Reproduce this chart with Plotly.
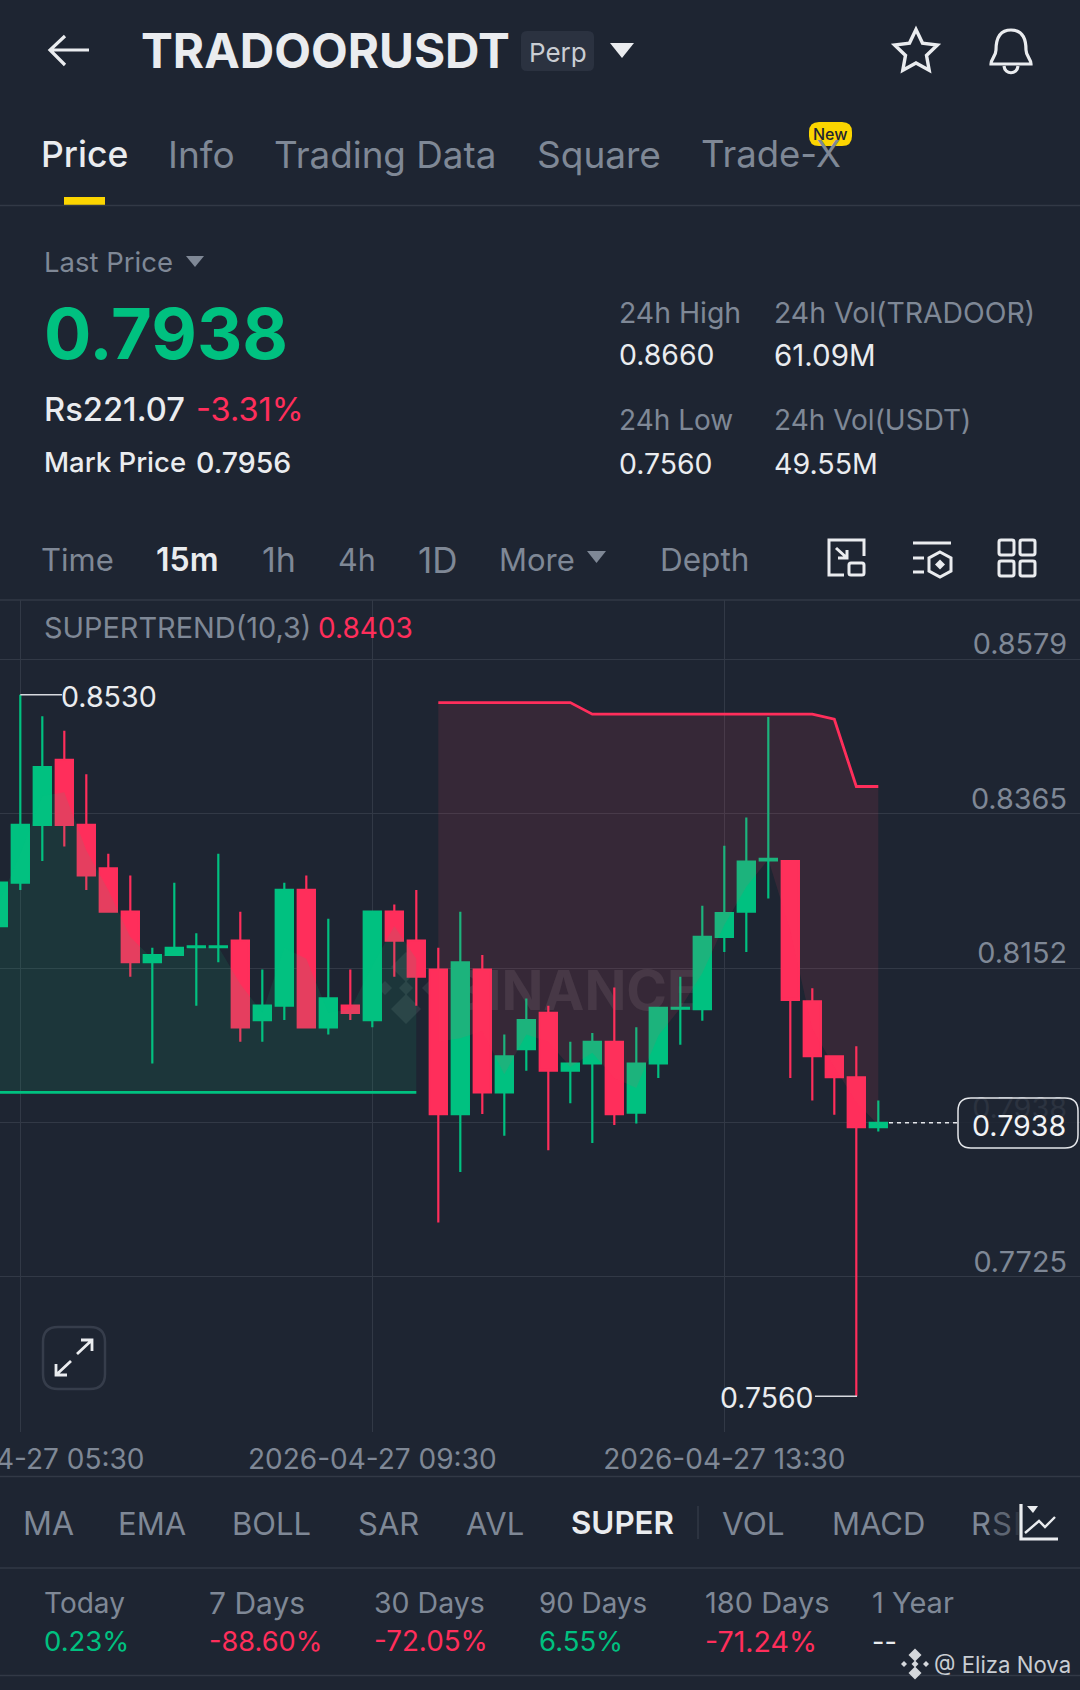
import math, re
import pandas as pd
import plotly.graph_objects as go

W, H = 1080, 1690
BG = "#1E2532"
GRID = "#323946"
GREEN = "#00C180"
RED = "#FF2E5B"
GRAY = "#7F8896"
WHITE = "#EAECEF"
FONT = "Inter"

# ---- data ----
candle_times = pd.date_range("2026-04-27 05:15", periods=41, freq="15min")
candle_open = [.8210, .8270, .8350, .8440, .8350, .8290, .8230, .8160, .8170, .8181, .8181,
               .8190, .8080, .8100, .8260, .8070, .8100, .8080, .8230, .8190,
               .8150, .7950, .8150, .7980, .8040, .8090, .8010, .8020, .8050, .7952,
               .8020, .8096, .8095, .8195, .8230, .8301, .8300, .8106, .8030, .8001, .7932]
candle_high = [.8270, .8530, .8500, .8480, .8420, .8310, .8280, .8180, .8270, .8200, .8310,
               .8230, .8150, .8270, .8280, .8220, .8150, .8230, .8240, .8260,
               .8180, .8230, .8170, .8060, .8110, .8100, .8050, .8062, .8125, .8070,
               .8098, .8140, .8238, .8321, .8360, .8499, .8300, .8124, .8030, .8044, .7969]
candle_low = [.8210, .8260, .8300, .8320, .8260, .8230, .8140, .8020, .8170, .8100, .8160,
              .8050, .8050, .8080, .8070, .8060, .8080, .8070, .8140, .8100,
              .7800, .7870, .7950, .7920, .8010, .7900, .7965, .7910, .7935, .7937,
              .8000, .8046, .8079, .8174, .8174, .8248, .8000, .7969, .7949, .7560, .7926]
candle_close = [.8270, .8350, .8430, .8350, .8280, .8230, .8160, .8170, .8180, .8182, .8182,
                .8070, .8100, .8260, .8070, .8110, .8090, .8230, .8190, .8140,
                .7950, .8160, .7980, .8030, .8080, .8010, .8020, .8050, .7950, .8020,
                .8097, .8097, .8195, .8228, .8299, .8303, .8108, .8030, .8001, .7932, .7938]

trend_up_count = 20       # candles covered by the green band
trend_up_value = [.7980] * trend_up_count
trend_down_value = [.8519, .8519, .8519, .8519, .8519, .8519, .8519, .8503, .8503, .8503, .8503,
                    .8503, .8503, .8503, .8503, .8503, .8503, .8503, .8496, .8403, .8403]

price_ticks = [.8579, .8365, .8152, .7938, .7725, .7511]
price_tick_labels = ["0.8579", "0.8365", "0.8152", "0.7938", "0.7725", "0.7511"]
time_ticks = ["2026-04-27 05:30", "2026-04-27 09:30", "2026-04-27 13:30"]
last_price = .7938
high_mark, low_mark = .8530, .7560

# ---- chart geometry ----
PLOT_TOP, PLOT_BOT = 600, 1431.5
PX_PER_PRICE = 7232.0
def py(p):
    return 1122.8 - (p - last_price) * PX_PER_PRICE
y_top = last_price + (1122.8 - PLOT_TOP) / PX_PER_PRICE
y_bot = last_price + (1122.8 - PLOT_BOT) / PX_PER_PRICE
T0 = pd.Timestamp("2026-04-27 05:30")
def tx(px):
    return (T0 + pd.Timedelta(minutes=(px - 20.3) / 22.0 * 15)).strftime("%Y-%m-%d %H:%M:%S")

# ---- helpers ----
annots, shapes = [], []
def T(x, y, s, size, color, anchor="left", weight=400, family=None):
    if anchor == "left":
        x -= 1.2
    annots.append(dict(x=x / W, y=1 - y / H, xref="paper", yref="paper", text=s, showarrow=False,
                       xanchor=anchor, yanchor="middle", borderpad=0, borderwidth=0,
                       font=dict(size=size, color=color, family=family or FONT, weight=weight)))
def path(d):
    toks = re.findall(r"[MLCQZ]|-?\d+\.?\d*", d)
    out, i = [], 0
    for t in toks:
        if t in "MLCQZ":
            out.append(t)
        else:
            v = float(t)
            out.append(f"{v / W:.6f}" if i % 2 == 0 else f"{1 - v / H:.6f}")
            i += 1
    return " ".join(out)
def P(d, stroke=WHITE, width=3, fill=None, layer="above"):
    shapes.append(dict(type="path", xref="paper", yref="paper", path=path(d), layer=layer,
                       line=dict(color=stroke or "rgba(0,0,0,0)", width=width if stroke else 0),
                       fillcolor=fill or "rgba(0,0,0,0)"))
def RR(x0, y0, x1, y1, r):
    return (f"M {x0+r} {y0} L {x1-r} {y0} Q {x1} {y0} {x1} {y0+r} L {x1} {y1-r} Q {x1} {y1} {x1-r} {y1} "
            f"L {x0+r} {y1} Q {x0} {y1} {x0} {y1-r} L {x0} {y0+r} Q {x0} {y0} {x0+r} {y0} Z")
def HL(y, x0=0, x1=W, c=GRID, w=1.5):
    P(f"M {x0} {y} L {x1} {y}", stroke=c, width=w)
def DIA(cx, cy, r):
    return f"M {cx} {cy-r} L {cx+r} {cy} L {cx} {cy+r} L {cx-r} {cy} Z"
def TRI(x0, x1, y0, y1, c):
    P(f"M {x0} {y0} L {x1} {y0} L {(x0+x1)/2} {y1} Z", stroke=None, fill=c)

# ---- header ----
P("M 89 50 L 50 50 M 65 36 L 50 50 L 65 65", width=3.2)
T(142, 51, "TRADOORUSDT", 47.7, WHITE, weight=700)
P(RR(521, 31, 594, 71, 6), stroke=None, fill="#2B3240")
T(557.5, 52, "Perp", 26, "#C9CDD3", anchor="center")
TRI(610, 634, 43, 58, WHITE)
pts = []
for k in range(10):
    r = 22.5 if k % 2 == 0 else 11
    a = math.radians(-90 + 36 * k)
    pts.append((916 + r * math.cos(a), 52 + r * math.sin(a)))
P("M " + " L ".join(f"{a:.1f} {b:.1f}" for a, b in pts) + " Z", width=3.4)
P("M 1011 30 C 998 30 996 41 996 50 C 996 56 991 59 991 64 L 1031 64 C 1031 59 1026 56 1026 50 C 1026 41 1024 30 1011 30 Z", width=3.2)
P("M 1004 66 C 1005 75 1017 75 1018 66", width=3.2)

# ---- tabs ----
for x, s, c, wt, sz, yy in [(42, "Price", WHITE, 500, 35.5, 154.5), (169, "Info", GRAY, 400, 37, 154), (275, "Trading Data", GRAY, 400, 36.8, 154),
                            (538, "Square", GRAY, 400, 37, 154), (702, "Trade-X", GRAY, 400, 36.5, 154)]:
    T(x, yy, s, sz, c, weight=wt)
P(f"M 64 197 L 105 197 L 105 205 L 64 205 Z", stroke=None, fill="#FCD500")
HL(205.5)
P(RR(809, 122, 852, 146, 10), stroke=None, fill="#FCD500")
T(830.5, 134, "New", 16, "#1E2532", anchor="center", weight=500)

# ---- price panel ----
T(45, 262.5, "Last Price", 27.5, GRAY)
TRI(186, 204, 256, 267, GRAY)
T(45, 333, "0.7938", 70.3, GREEN, weight=700)
T(45, 409, "Rs221.07", 32.7, WHITE, weight=500)
T(197, 409, "-3.31%", 32.5, RED, weight=400)
T(45, 462, "Mark Price", 27.5, WHITE, weight=500)
T(197, 462, "0.7956", 28.5, WHITE, weight=500)
for x, y, s, c, sz in [(620, 312, "24h High", GRAY, 28.4), (775, 312, "24h Vol(TRADOOR)", GRAY, 28.4),
                       (620, 355, "0.8660", WHITE, 28.4), (775, 355, "61.09M", WHITE, 29.5),
                       (620, 420, "24h Low", GRAY, 28), (775, 420, "24h Vol(USDT)", GRAY, 28),
                       (620, 463, "0.7560", WHITE, 28.4), (775, 463, "49.55M", WHITE, 28.6)]:
    T(x, y, s, sz, c)

# ---- interval row ----
for x, s, c, wt, sz in [(42, "Time", GRAY, 400, 31), (157, "15m", WHITE, 600, 32), (263, "1h", GRAY, 400, 34), (339, "4h", GRAY, 400, 30.5),
                        (419, "1D", GRAY, 400, 35), (500, "More", GRAY, 400, 31), (661, "Depth", GRAY, 400, 31.5)]:
    T(x, 559.5, s, sz, c, weight=wt)
TRI(587, 606, 551, 563, GRAY)
P("M 864 556 L 864 540 L 829 540 L 829 575 L 844 575", width=3)
P(RR(849, 563, 864, 575, 2), width=3)
P("M 836 548 L 847 558 M 847 550 L 847 558 L 838 558", width=3)
P("M 913 543 L 951 543 M 913 558 L 924 558 M 913 572 L 924 572", width=3)
P("M 940 552 L 951 558 L 951 571 L 940 577 L 929 571 L 929 558 Z", width=3)
P(DIA(940, 564.5, 5), stroke=None, fill=WHITE)
for a, b in [(999, 540), (1020, 540), (999, 561), (1020, 561)]:
    P(RR(a, b, a + 15, b + 15, 2), width=3)
HL(600)

# ---- chart labels ----
T(45, 628, "SUPERTREND(10,3)", 28.9, GRAY)
T(319, 628, "0.8403", 28, RED)
T(62, py(high_mark) + 1.5, "0.8530", 28.6, WHITE)
T(721, py(low_mark) + 1.5, "0.7560", 28.4, WHITE)
for xa, xb, v in [(20.3, 62, high_mark), (815, 857, low_mark)]:
    shapes.append(dict(type="line", xref="x", yref="y", x0=tx(xa), x1=tx(xb), y0=v, y1=v,
                       line=dict(color="#D7DADF", width=1.5)))
shapes.append(dict(type="line", xref="x", yref="y", x0=tx(889), x1=tx(958), y0=last_price, y1=last_price,
                   line=dict(color="#E4E6EA", width=1.5, dash="4px,4px")))
P(RR(958, 1098, 1078, 1148, 13), stroke="#E4E6EA", width=1.5, fill="rgba(30,37,50,0.86)")
T(1066, 1125.5, "0.7938", 28.6, "#F2F3F5", anchor="right")
P(RR(43, 1327, 105, 1389, 15), stroke="#363D4B", width=2.5)
P("M 56 1375 L 71 1361 M 56 1364 L 56 1375 L 67 1375 M 77 1354 L 92 1340 M 81 1340 L 92 1340 L 92 1351", width=2.8)

# watermark, kept under the candles
shapes.append(dict(type="rect", xref="paper", yref="paper", layer="below",
                   x0=440 / W, x1=710 / W, y0=1 - 1010 / H, y1=1 - 965 / H,
                   line=dict(width=0), fillcolor="rgba(0,0,0,0)",
                   label=dict(text="BINANCE", textposition="middle center",
                              font=dict(size=55, color="rgba(255,255,255,0.085)", family=FONT, weight=700))))
for cx, cy, r in [(406, 967, 15), (406, 1009, 15), (385, 988, 7), (429, 988, 7), (406, 988, 7)]:
    P(DIA(cx, cy, r), stroke=None, fill="rgba(255,255,255,0.08)", layer="below")

# ---- indicator row ----
HL(1476.5)
for x, s, c, wt, sz in [(24, "MA", GRAY, 400, 32), (119, "EMA", GRAY, 400, 31), (233, "BOLL", GRAY, 400, 31), (359, "SAR", GRAY, 400, 31),
                        (467, "AVL", GRAY, 400, 31), (572, "SUPER", WHITE, 600, 31.3), (723, "VOL", GRAY, 400, 31.5), (833, "MACD", GRAY, 400, 31)]:
    T(x, 1523, s, sz, c, weight=wt)
T(972, 1523, "R", 31, GRAY)
T(993, 1523, "S", 31, "#5E6673")
T(1014, 1523, "I", 31, "#303744")
P("M 698 1506 L 698 1539", stroke=GRID, width=1.5)
P("M 1021 1504 L 1021 1539 L 1058 1539", width=3.2)
P("M 1025 1533 L 1039 1521 L 1045 1527 L 1055 1517", width=2.4)
P("M 1027 1506 L 1038 1506 L 1033 1513 Z", stroke=None, fill=WHITE)
HL(1568)

# ---- returns ----
for x, a, b, c, sa, sb in [(45, "Today", "0.23%", GREEN, 28, 27.5), (210, "7 Days", "-88.60%", RED, 30, 27.2),
                           (375, "30 Days", "-72.05%", RED, 28.5, 27.8), (540, "90 Days", "6.55%", GREEN, 27.8, 27.5),
                           (706, "180 Days", "-71.24%", RED, 29, 28.6), (873, "1 Year", "--", WHITE, 29, 27)]:
    T(x, 1602.5, a, sa, GRAY)
    T(x, 1641, b, sb, c)
HL(1675.5)
for cx, cy, r in [(915, 1655, 6.5), (915, 1673, 6.5), (904, 1664, 3), (926, 1664, 3), (915, 1664, 3.5)]:
    P(DIA(cx, cy, r), stroke=None, fill="#D5D8DC")
T(935, 1664, "@ Eliza Nova", 22.2, "#C9CDD2")

# ---- traces ----
fig = go.Figure()
fig.add_trace(go.Candlestick(
    x=candle_times, open=candle_open, high=candle_high, low=candle_low, close=candle_close,
    whiskerwidth=0, showlegend=False,
    increasing=dict(line=dict(color=GREEN, width=2.2), fillcolor=GREEN),
    decreasing=dict(line=dict(color=RED, width=2.2), fillcolor=RED)))
mid = [(o + c) / 2 for o, c in zip(candle_open, candle_close)]
n_up = trend_up_count
fig.add_trace(go.Scatter(x=candle_times[:n_up], y=trend_up_value, mode="lines",
                         line=dict(color=GREEN, width=2.8), showlegend=False))
fig.add_trace(go.Scatter(x=candle_times[:n_up], y=mid[:n_up], mode="lines", line=dict(width=0),
                         fill="tonexty", fillcolor="rgba(14,203,129,0.11)", showlegend=False))
fig.add_trace(go.Scatter(x=candle_times[n_up:], y=trend_down_value, mode="lines",
                         line=dict(color=RED, width=2.8), showlegend=False))
fig.add_trace(go.Scatter(x=candle_times[n_up:], y=mid[n_up:], mode="lines", line=dict(width=0),
                         fill="tonexty", fillcolor="rgba(246,70,93,0.115)", showlegend=False))

fig.update_layout(
    width=W, height=H, autosize=False, margin=dict(l=0, r=0, t=0, b=0, pad=0),
    paper_bgcolor=BG, plot_bgcolor=BG, showlegend=False, boxgap=0.22, boxgroupgap=0, hovermode=False,
    font=dict(family=FONT),
    annotations=annots, shapes=shapes,
    xaxis=dict(domain=[0, 1], range=[tx(0), tx(W)], type="date", rangeslider=dict(visible=False),
               tickmode="array", tickvals=time_ticks, tickformat="%Y-%m-%d %H:%M",
               ticklabeloverflow="allow", ticks="", showline=False, showgrid=True, gridcolor=GRID, gridwidth=1.4,
               zeroline=False, tickfont=dict(size=28, color=GRAY, family=FONT), ticklabelstandoff=8,
               automargin=False, anchor="y"),
    yaxis=dict(domain=[1 - PLOT_BOT / H, 1 - PLOT_TOP / H], range=[y_bot, y_top], side="right",
               tickmode="array", tickvals=price_ticks, ticktext=price_tick_labels,
               ticklabelposition="inside top", ticks="", showline=False, showgrid=True, gridcolor=GRID, gridwidth=1.4,
               zeroline=False, tickfont=dict(size=28.8, color=GRAY, family=FONT), ticklabelstandoff=10, ticklabelshift=5,
               automargin=False, anchor="x"),
)
fig.write_html("out.html", config=dict(displayModeBar=False),
               post_script="document.body.style.margin='0';document.body.style.background='%s';document.documentElement.style.overflow='hidden';" % BG)
